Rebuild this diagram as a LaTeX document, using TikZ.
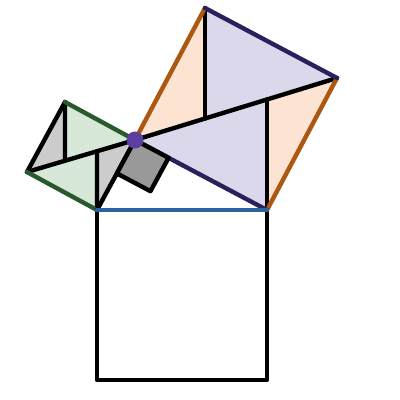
\documentclass[tikz,border=0pt]{standalone}
\usetikzlibrary{calc}
\definecolor{orfill}{HTML}{FDE4D2}
\definecolor{oredge}{HTML}{AC5812}
\definecolor{pufill}{HTML}{DCD8EC}
\definecolor{puedge}{HTML}{2B1F5C}
\definecolor{grfill}{HTML}{D7E8D9}
\definecolor{gredge}{HTML}{285A2C}
\definecolor{gyfill}{HTML}{CCCCCC}
\definecolor{dkfill}{HTML}{999999}
\definecolor{bledge}{HTML}{2A64A0}
\definecolor{dotcol}{HTML}{5A3FA0}
\begin{document}
\begin{tikzpicture}[x=1pt,y=-1pt,line cap=round,line join=round,
  edge/.style={line width=4.4pt}]
\useasboundingbox (0,0) rectangle (400,400);
% triangle vertices
\coordinate (A) at (97,210);
\coordinate (B) at (267,210);
\coordinate (C) at (135,140);
% square on CB
\coordinate (D) at (337,78);
\coordinate (E) at (205,8);
% square on CA
\coordinate (G) at (27,172);
\coordinate (H) at (65,102);
% square on AB
\coordinate (P) at (267,380);
\coordinate (Q) at (97,380);
% diagonal intersections
\coordinate (E1) at (intersection of C--D and E--{205,300});
\coordinate (B1) at (intersection of C--D and B--{267,0});
\coordinate (H1) at (intersection of G--C and H--{65,300});
\coordinate (A1) at (intersection of G--C and A--{97,0});
% fills, square on CB
\fill[orfill] (C) -- (E) -- (E1) -- cycle;
\fill[pufill] (E) -- (D) -- (E1) -- cycle;
\fill[pufill] (C) -- (B1) -- (B) -- cycle;
\fill[orfill] (B1) -- (D) -- (B) -- cycle;
% fills, square on CA
\fill[gyfill] (G) -- (H) -- (H1) -- cycle;
\fill[grfill] (H) -- (C) -- (H1) -- cycle;
\fill[grfill] (G) -- (A1) -- (A) -- cycle;
\fill[gyfill] (A1) -- (C) -- (A) -- cycle;
% big square
\draw[edge,black] (A) -- (Q) -- (P) -- (B);
% inner lines
\draw[edge,black] (C) -- (D);
\draw[edge,black] (E) -- (E1);
\draw[edge,black] (B) -- (B1);
\draw[edge,black] (G) -- (C);
\draw[edge,black] (H) -- (H1);
\draw[edge,black] (A) -- (A1);
% outer edges of leg squares
\draw[edge,oredge] (C) -- (E);
\draw[edge,oredge] (D) -- (B);
\draw[edge,puedge] (E) -- (D);
\draw[edge,puedge] (B) -- (C);
\draw[edge,black] (G) -- (H);
\draw[edge,gredge] (H) -- (C);
\draw[edge,gredge] (A) -- (G);
\draw[edge,black] (C) -- (A);
% right angle marker
\draw[edge,black,fill=dkfill] (C) -- ($(C)!38pt!(B)$) coordinate (R1)
  -- ($(R1)+($(C)!38pt!(A)-(C)$)$) -- ($(C)!38pt!(A)$) -- cycle;
% hypotenuse
\draw[edge,bledge] (A) -- (B);
% point
\fill[dotcol] (C) circle (8.5pt);
\end{tikzpicture}
\end{document}
